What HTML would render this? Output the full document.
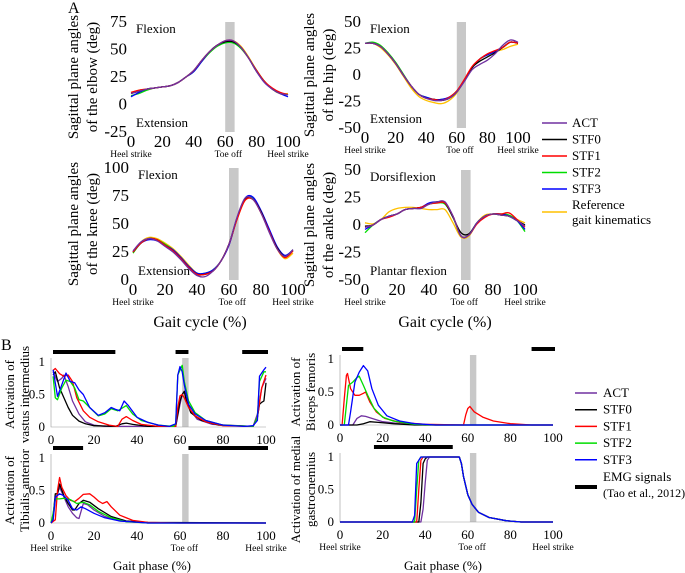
<!DOCTYPE html>
<html><head><meta charset="utf-8"><style>
body{margin:0;background:#fff;}
svg{display:block;}
svg text{font-family:"Liberation Serif","DejaVu Serif","Times New Roman",serif;}
</style></head><body>
<svg id="fig" width="685" height="573" viewBox="0 0 685 573" xmlns="http://www.w3.org/2000/svg">
<text x="68" y="13" font-size="16">A</text>
<text x="1" y="350" font-size="16">B</text>
<g id="root"></g>
</svg>
<script>
// ---------- Panel A data (x = 0,5,...,100 % gait cycle) ----------
const aX = [0,5,10,15,20,25,30,35,40,45,50,55,60,65,70,75,80,85,90,95,100];
const elbowACT  = [10,12,14,15,16,17,20,25,31,40,48,54,58,58,52,42,30,20,14,10,9];
const elbowSTF0 = [10,12,14,15,16,17,20,25,31,40,48,54,57,57,52,42,30,21,14,10,9];
const elbowSTF1 = [11,13,14,15,16,17,20,25,31,40,48,54,58,58,52,42,31,21,15,11,9];
const elbowSTF2 = [8,10,13,15,16,17,20,25,30,39,47,53,56,56,51,42,31,21,14,10,9];
const elbowSTF3 = [7,11,14,15,16,17,20,25,30,39,48,54,57,57,52,42,30,20,14,10,7];
const elbowREF  = [11,13,14,15,16,17,20,25,31,40,48,54,57,58,53,43,31,21,14,10,10];
const hipACT  = [30,30,27,20,11,0,-10,-18,-22,-24,-24,-22,-16,-6,5,10,14,20,28,33,31];
const hipSTF0 = [30,30,27,20,11,0,-10,-18,-22,-23,-24,-22,-16,-5,7,13,17,21,26,31,30];
const hipSTF1 = [30,30,27,20,11,0,-10,-18,-22,-23,-24,-21,-15,-4,8,15,20,23,26,31,30];
const hipSTF2 = [30,31,28,21,12,1,-10,-18,-21,-23,-23,-21,-15,-5,7,15,19,22,26,31,30];
const hipSTF3 = [30,30,27,20,11,0,-10,-18,-21,-23,-23,-21,-16,-5,7,15,19,22,26,31,30];
const hipREF  = [30,30,26,19,10,-1,-12,-20,-24,-26,-27,-24,-17,-5,7,15,19,22,24,27,29];
const kneeACT  = [26,34,37,35,30,25,18,10,4,3,8,17,32,56,73,72,60,43,28,21,27];
const kneeSTF0 = [25,33,37,36,31,26,19,11,5,5,8,17,32,55,72,72,61,44,29,21,27];
const kneeSTF1 = [25,33,37,36,31,26,19,11,5,5,8,17,32,54,71,72,60,44,28,20,26];
const kneeSTF2 = [24,33,37,36,32,27,20,12,6,6,9,17,32,55,72,73,61,45,29,21,26];
const kneeSTF3 = [25,33,36,35,31,27,20,12,6,6,9,17,31,55,73,74,62,46,30,22,27];
const kneeREF  = [24,34,38,37,33,28,21,13,6,5,9,17,32,54,71,72,60,44,28,19,24];
const ankleACT  = [-2,0,5,8,10,14,15,15,19,21,21,8,-10,-9,2,8,10,9,8,4,-1];
const ankleSTF0 = [-1,0,5,8,10,14,15,16,19,21,20,7,-7,-8,2,8,10,9,8,4,0];
const ankleSTF1 = [-2,0,5,7,10,14,15,16,19,20,20,8,-10,-9,1,7,10,10,11,5,-2];
const ankleSTF2 = [-7,0,5,8,10,14,15,16,19,20,19,7,-10,-9,2,8,10,10,9,4,-6];
const ankleSTF3 = [-4,0,5,8,10,14,15,16,20,21,20,8,-10,-9,2,8,10,10,8,4,-4];
const ankleREF  = [2,1,5,12,15,16,16,15,14,14,14,2,-11,-10,2,9,10,9,8,5,2];

// ---------- Panel B data ([gait %, activation] pairs) ----------
const vastACT  = [[1,.85],[3,.7],[5,.75],[6,.8],[8,.62],[10,.4],[13,.2],[16,.08],[20,.03],[25,.01],[58,.01],[60,.35],[61,.5],[62,.55],[63,.42],[65,.25],[68,.12],[75,.04],[94,.01],[96,.2],[98,.6],[100,.75]];
const vastSTF0 = [[1,.8],[2,.85],[4,.6],[6,.45],[8,.3],[10,.18],[13,.09],[16,.05],[20,.02],[30,.01],[33,.05],[35,.06],[38,.04],[45,.01],[58,.01],[60,.4],[61,.5],[62,.55],[63,.4],[65,.22],[70,.1],[78,.03],[94,.01],[96,.15],[97,.35],[98,.38],[99,.4],[100,.68]];
const vastSTF1 = [[1,.87],[2,.9],[4,.82],[6,.78],[8,.8],[10,.7],[12,.45],[15,.25],[18,.15],[22,.08],[27,.03],[31,.01],[33,.12],[35,.16],[38,.1],[42,.04],[50,.01],[58,.01],[59,.3],[60,.48],[61,.5],[62,.45],[64,.3],[67,.17],[72,.08],[80,.02],[94,.01],[96,.15],[98,.6],[100,.8]];
const vastSTF2 = [[1,.78],[2,.45],[3,.42],[5,.6],[7,.72],[9,.7],[11,.6],[13,.42],[15,.4],[18,.3],[22,.17],[25,.2],[28,.28],[31,.25],[35,.33],[38,.2],[42,.1],[50,.03],[57,.01],[58,.05],[59,.8],[61,.95],[62,.7],[64,.4],[67,.22],[72,.1],[80,.03],[94,.01],[96,.15],[97,.7],[99,.85],[100,.85]];
const vastSTF3 = [[1,.88],[3,.47],[5,.65],[7,.83],[9,.7],[11,.68],[13,.57],[15,.5],[18,.3],[22,.18],[25,.22],[28,.3],[30,.27],[32,.25],[34,.4],[36,.33],[40,.15],[45,.07],[50,.03],[55,.01],[58,.05],[59,.8],[60,.93],[61,.85],[62,.65],[64,.35],[67,.2],[72,.1],[80,.03],[90,.01],[94,.02],[96,.1],[97,.78],[99,.88],[100,.92]];
const bicACT  = [[0,0],[6,0],[8,.1],[10,.14],[12,.13],[15,.1],[20,.05],[28,.02],[40,0],[100,0]];
const bicSTF0 = [[0,0],[8,0],[11,.02],[14,.05],[18,.04],[25,.02],[35,0],[100,0]];
const bicSTF1 = [[0,0],[1,0],[2,.4],[3,.75],[3.5,.78],[5,.55],[7,.45],[9,.45],[11,.48],[12,.5],[14,.35],[17,.2],[21,.1],[28,.04],[40,.01],[58,0],[59,.15],[60,.25],[61,.28],[63,.2],[67,.12],[72,.06],[80,.02],[90,0],[100,0]];
const bicSTF2 = [[0,0],[2,0],[3,.3],[4,.6],[6,.65],[8,.72],[9,.74],[11,.6],[13,.45],[16,.25],[20,.12],[25,.06],[35,.01],[45,0],[100,0]];
const bicSTF3 = [[0,0],[4,0],[5,.2],[7,.65],[9,.8],[11,.9],[13,.82],[15,.55],[18,.3],[22,.14],[28,.06],[35,.02],[45,0],[100,0]];
const tibACT  = [[0,0],[1,.05],[2,.35],[4,.55],[6,.4],[8,.25],[10,.15],[12,.08],[13,.07],[15,.3],[17,.28],[20,.2],[25,.1],[32,.03],[45,0],[100,0]];
const tibSTF0 = [[0,0],[1,.1],[2,.45],[3,.45],[4,.6],[6,.42],[8,.3],[10,.2],[11,.2],[13,.3],[15,.35],[18,.32],[22,.22],[28,.1],[35,.03],[45,.01],[100,0]];
const tibSTF1 = [[0,0],[2,.05],[3,.5],[4,.7],[5,.55],[7,.42],[9,.35],[11,.33],[13,.38],[15,.44],[18,.45],[20,.4],[22,.34],[24,.3],[26,.33],[28,.25],[32,.12],[38,.04],[45,.01],[60,0],[100,0]];
const tibSTF2 = [[0,0],[1,.15],[2,.37],[4,.37],[6,.38],[9,.36],[12,.3],[15,.32],[18,.28],[22,.18],[28,.08],[35,.02],[45,0],[100,0]];
const tibSTF3 = [[0,0],[1,.05],[2,.4],[4,.45],[6,.42],[8,.35],[10,.22],[12,.2],[14,.25],[16,.22],[20,.15],[25,.08],[32,.03],[45,0],[100,0]];
const gasACT  = [[0,0],[38,0],[39,.2],[40,.6],[41,.95],[42,1],[56,1],[57,.9],[58,.7],[60,.42],[62,.27],[65,.15],[70,.07],[78,.02],[85,0],[100,0]];
const gasSTF0 = [[0,0],[37,0],[38,.3],[39,.9],[40,.97],[41,1],[56,1],[57,.9],[58,.7],[60,.42],[62,.27],[65,.15],[70,.07],[78,.02],[85,0],[100,0]];
const gasSTF1 = [[0,0],[36,0],[37,.5],[38,.95],[39,1],[56,1],[57,.9],[58,.7],[60,.42],[62,.27],[65,.15],[70,.07],[78,.02],[85,0],[100,0]];
const gasSTF2 = [[0,0],[35,0],[36,.5],[37,.95],[38,1],[56,1],[57,.9],[58,.7],[60,.42],[62,.27],[65,.15],[70,.07],[78,.02],[85,0],[100,0]];
const gasSTF3 = [[0,0],[34,0],[35,.1],[36,.9],[37,.95],[38,1],[56,1],[57,.9],[58,.7],[60,.42],[62,.27],[65,.15],[70,.07],[78,.02],[85,0],[100,0]];
// EMG on-bars [start,end] in %
const vastEMG = [[0,29],[57,63],[88,100]];
const bicEMG  = [[0,10],[89,100]];
const tibEMG  = [[0,14],[63,100]];
const gasEMG  = [[15,52]];

const xTicks = [0,20,40,60,80,100];
const COL = {ACT:'#7030a0',STF0:'#000000',STF1:'#ff0000',STF2:'#00dd00',STF3:'#0000ff',REF:'#ffc000'};
const NS = 'http://www.w3.org/2000/svg';
const root = document.getElementById('root');
function el(tag, attrs, parent){const e=document.createElementNS(NS,tag);for(const k in attrs)e.setAttribute(k,attrs[k]);(parent||root).appendChild(e);return e;}
function txt(x,y,s,size,anchor,parent,rot){const t=el('text',{x:x,y:y,'font-size':size,'text-anchor':anchor||'middle'},parent);if(rot)t.setAttribute('transform','rotate(-90 '+x+' '+y+')');t.textContent=s;return t;}
function smooth(pts){let d='M'+pts[0][0]+','+pts[0][1];for(let i=0;i<pts.length-1;i++){const p0=pts[Math.max(0,i-1)],p1=pts[i],p2=pts[i+1],p3=pts[Math.min(pts.length-1,i+2)];d+=' C'+(p1[0]+(p2[0]-p0[0])/6)+','+(p1[1]+(p2[1]-p0[1])/6)+' '+(p2[0]-(p3[0]-p1[0])/6)+','+(p2[1]-(p3[1]-p1[1])/6)+' '+p2[0]+','+p2[1];}return d;}

function panelA(cfg){
  const g=el('g',{});
  
  
  const sx=v=>cfg.x0+(v/100)*(cfg.x1-cfg.x0);
  const sy=v=>cfg.yb+(v-cfg.ymin)/(cfg.ymax-cfg.ymin)*(cfg.yt-cfg.yb);
  const band=el('rect',{x:sx(60),y:cfg.yt,width:sx(66)-sx(60),height:cfg.yb-cfg.yt,fill:'#c8c8c8'},g);
  
  
  cfg.yticks.forEach(v=>{const t=txt(cfg.x0-4,sy(v)+5,String(v),17,'end',g);});
  xTicks.forEach(v=>{const t=txt(sx(v),cfg.yb+15,String(v),17,'middle',g);});
  [['Heel strike',0],['Toe off',62],['Heel strike',100]].forEach(a=>{const t=txt(sx(a[1]),cfg.yb+25,a[0],9.5,'middle',g);});
  const t1=txt(cfg.x0+5,cfg.yt+11,cfg.top,13,'start',g);
  const t2=txt(cfg.x0+5,cfg.yb-5,cfg.bot,13,'start',g);
  const cy=(cfg.yt+cfg.yb)/2;
  const yt1=txt(cfg.tx,cy,'Sagittal plane angles',15,'middle',g,true);
  const yt2=txt(cfg.tx+19,cy,cfg.title2,15,'middle',g,true);
  cfg.series.forEach(s=>{
    const pts=aX.map((x,i)=>[sx(x),sy(s[1][i])]);
    const p=el('path',{d:smooth(pts),fill:'none',stroke:COL[s[0]],'stroke-width':1.3},g);
    
    
  });
}
panelA({name:'elbow-chart',x0:131,x1:288,yt:22,yb:132,ymin:-25,ymax:75,yticks:[75,50,25,0,-25],top:'Flexion',bot:'Extension',tx:78,title2:'of the elbow (deg)',
 series:[['REF',elbowREF],['STF2',elbowSTF2],['STF3',elbowSTF3],['STF0',elbowSTF0],['STF1',elbowSTF1],['ACT',elbowACT]]});
panelA({name:'hip-chart',x0:365,x1:518,yt:22,yb:128,ymin:-50,ymax:50,yticks:[50,25,0,-25,-50],top:'Flexion',bot:'Extension',tx:314,title2:'of the hip (deg)',
 series:[['REF',hipREF],['STF2',hipSTF2],['STF3',hipSTF3],['STF0',hipSTF0],['STF1',hipSTF1],['ACT',hipACT]]});
panelA({name:'knee-chart',x0:133,x1:293,yt:168,yb:280,ymin:0,ymax:100,yticks:[100,75,50,25,0],top:'Flexion',bot:'Extension',tx:78,title2:'of the knee (deg)',
 series:[['REF',kneeREF],['STF2',kneeSTF2],['STF3',kneeSTF3],['STF0',kneeSTF0],['STF1',kneeSTF1],['ACT',kneeACT]]});
panelA({name:'ankle-chart',x0:365,x1:525,yt:170,yb:280,ymin:-50,ymax:50,yticks:[50,25,0,-25,-50],top:'Dorsiflexion',bot:'Plantar flexion',tx:314,title2:'of the ankle (deg)',
 series:[['REF',ankleREF],['STF2',ankleSTF2],['STF3',ankleSTF3],['STF0',ankleSTF0],['STF1',ankleSTF1],['ACT',ankleACT]]});
[[200,'gait-cycle-label-left'],[445,'gait-cycle-label-right']].forEach(a=>{const t=txt(a[0],327,'Gait cycle (%)',16,'middle');});

// Legend A
const legA=[['ACT','ACT'],['STF0','STF0'],['STF1','STF1'],['STF2','STF2'],['STF3','STF3']];
legA.forEach((l,i)=>{const y=123+i*16.5;
  const ln=el('line',{x1:542,x2:567,y1:y,y2:y,stroke:COL[l[0]],'stroke-width':1.5});
  const t=txt(572,y+4,l[1],13,'start');});
{const ln=el('line',{x1:542,x2:567,y1:212,y2:212,stroke:COL.REF,'stroke-width':1.5});
 const t=txt(572,209,'Reference',13,'start');
 const t2=txt(572,224,'gait kinematics',13,'start');}

function panelB(cfg){
  const g=el('g',{});
  
  
  const sx=v=>cfg.x0+(v/100)*(cfg.x1-cfg.x0);
  const sy=v=>cfg.yb+v*(cfg.yt-cfg.yb);
  const band=el('rect',{x:sx(61),y:cfg.yt-4,width:sx(64)-sx(61),height:cfg.yb-cfg.yt+4,fill:'#c8c8c8'},g);
  
  
  const ax=el('path',{d:'M'+cfg.x0+','+(cfg.yt-4)+' V'+cfg.yb+' H'+cfg.x1,fill:'none',stroke:'#999','stroke-width':0.6},g);
  
  
  [[1,'1'],[0.5,'0.5'],[0,'0']].forEach(v=>{const t=txt(cfg.x0-6,sy(v[0])+4,v[1],13,'end',g);});
  xTicks.forEach(v=>{const t=txt(sx(v),cfg.yb+17,String(v),13,'middle',g);});
  if(cfg.events){[['Heel strike',0],['Toe off',62],['Heel strike',100]].forEach(a=>{const t=txt(sx(a[1]),cfg.yb+28,a[0],9.5,'middle',g);});}
  cfg.emg.forEach(b=>{const r=el('rect',{x:sx(b[0])+2,y:cfg.yt-12,width:sx(b[1])-sx(b[0]),height:4,fill:'#000'},g);});
  const cy=(cfg.yt+cfg.yb)/2;
  const a1=txt(cfg.tx,cy,cfg.title1,13,'middle',g,true);
  const a2=txt(cfg.tx+15,cy,cfg.title2,13,'middle',g,true);
  cfg.series.forEach(s=>{
    const d=s[1].map((p,i)=>(i?'L':'M')+sx(p[0]).toFixed(1)+','+sy(p[1]).toFixed(1)).join(' ');
    const p=el('path',{d:d,fill:'none',stroke:COL[s[0]],'stroke-width':1.3,'stroke-linejoin':'round'},g);
    
    
  });
}
panelB({name:'vastus-chart',x0:51,x1:266,yt:362,yb:427,tx:14,title1:'Activation of',title2:'vastus intermedius',emg:vastEMG,events:false,
 series:[['ACT',vastACT],['STF0',vastSTF0],['STF1',vastSTF1],['STF2',vastSTF2],['STF3',vastSTF3]]});
panelB({name:'biceps-chart',x0:340,x1:553,yt:359,yb:425,tx:300,title1:'Activation of',title2:'Biceps femoris',emg:bicEMG,events:false,
 series:[['ACT',bicACT],['STF0',bicSTF0],['STF1',bicSTF1],['STF2',bicSTF2],['STF3',bicSTF3]]});
panelB({name:'tibialis-chart',x0:51,x1:266,yt:458,yb:523,tx:14,title1:'Activation of',title2:'Tibialis anterior',emg:tibEMG,events:true,
 series:[['ACT',tibACT],['STF0',tibSTF0],['STF1',tibSTF1],['STF2',tibSTF2],['STF3',tibSTF3]]});
panelB({name:'gastrocnemius-chart',x0:340,x1:553,yt:457,yb:522,tx:300,title1:'Activation of medial',title2:'gastrocnemius',emg:gasEMG,events:true,
 series:[['ACT',gasACT],['STF0',gasSTF0],['STF1',gasSTF1],['STF2',gasSTF2],['STF3',gasSTF3]]});
[[152,'gait-phase-label-left'],[443,'gait-phase-label-right']].forEach(a=>{const t=txt(a[0],570,'Gait phase (%)',13,'middle');});

// Legend B
legA.forEach((l,i)=>{const y=393+i*16.7;
  const ln=el('line',{x1:575,x2:597,y1:y,y2:y,stroke:COL[l[0]],'stroke-width':1.5});
  const t=txt(603,y+4,l[1],13,'start');});
{const r=el('rect',{x:575,y:485,width:22,height:4,fill:'#000'});
 const t=txt(603,481,'EMG signals',13,'start');
 const t2=txt(603,497,'(Tao et al., 2012)',12,'start');}
</script>
</body></html>
